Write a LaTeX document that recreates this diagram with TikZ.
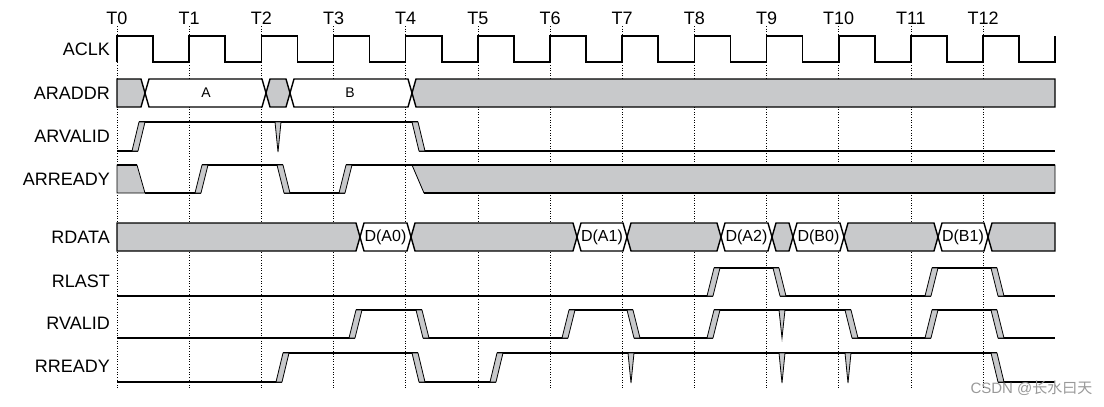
\documentclass[tikz,border=0pt]{standalone}
\usepackage{fontspec}
\setmainfont{Liberation Sans}
\newfontfamily\cjkfont{Noto Sans CJK SC}
\definecolor{bg}{HTML}{C8C9CB}
\def\T#1{117+72.17*(#1)}
\tikzset{sig/.style={line width=1.6pt},edge/.style={fill=bg,draw=black,line width=0.8pt,line join=miter},
 bus/.style={draw=black,line width=1.4pt,line join=miter},
 lab/.style={anchor=east,inner sep=0pt,font=\fontsize{18}{18}\selectfont},
 tlab/.style={inner sep=0pt,font=\fontsize{18}{18}\selectfont}}
% rise at x, lo y, hi y
\newcommand\tdR[3]{\filldraw[edge] (#1,#2) -- (#1+7,#3) -- (#1+13,#3) -- (#1+6,#2) -- cycle;}
\newcommand\tdF[3]{\filldraw[edge] (#1,#3) -- (#1+6,#3) -- (#1+13,#2) -- (#1+7,#2) -- cycle;}
\newcommand\tdG[3]{\filldraw[edge] (#1-3,#2) -- (#1+3,#2) -- (#1,#3) -- cycle;}
% bus segment a b top bot fill
\newcommand\tdSeg[5]{\filldraw[bus,fill=#5] (#1+4,#3) -- (#2-4,#3) -- (#2,{(#3+#4)/2}) -- (#2-4,#4) -- (#1+4,#4) -- (#1,{(#3+#4)/2}) -- cycle;}
\newcommand\tdEnd[5]{\filldraw[bus,fill=#5] (#1+4,#3) -- (#2,#3) -- (#2,#4) -- (#1+4,#4) -- (#1,{(#3+#4)/2}) -- cycle;}
\newcommand\tdBeg[5]{\filldraw[bus,fill=#5] (#1,#3) -- (#2-4,#3) -- (#2,{(#3+#4)/2}) -- (#2-4,#4) -- (#1,#4) -- cycle;}
\begin{document}
\begin{tikzpicture}[x=1pt,y=-1pt]
\useasboundingbox (0,0) rectangle (1104,407);
% grid
\foreach \k in {0,...,12}{
  \draw[dotted,line width=0.6pt] ({\T{\k}},26) -- ({\T{\k}},388);
  \node[tlab] (t\k) at ({\T{\k}},18) {T\k};
}
% labels
\node[lab] (lclk) at (110,49) {ACLK};
\node[lab] (laddr) at (110,93) {ARADDR};
\node[lab] (lav) at (110,136) {ARVALID};
\node[lab] (lar) at (110,179) {ARREADY};
\node[lab] (lrd) at (110,237) {RDATA};
\node[lab] (lrl) at (110,281) {RLAST};
\node[lab] (lrv) at (110,323) {RVALID};
\node[lab] (lrr) at (110,366) {RREADY};
% clock
\draw[sig,line join=miter] (117,62) \foreach \k in {0,...,12}{ -- ({\T{\k}},62) -- ({\T{\k}},36) -- ({\T{\k+.5}},36) -- ({\T{\k+.5}},62)} -- ({\T{13}},62) -- ({\T{13}},36);
% ARADDR
\tdBeg{117}{145}{79}{107}{bg}
\tdSeg{145}{266}{79}{107}{white}
\tdSeg{266}{290}{79}{107}{bg}
\tdSeg{290}{412}{79}{107}{white}
\tdEnd{412}{1055}{79}{107}{bg}
\node[font=\fontsize{14}{14}\selectfont] (va) at (206,93) {A};
\node[font=\fontsize{14}{14}\selectfont] (vb) at (350,93) {B};
% ARVALID
\draw[sig] (117,151) -- (138,151);
\draw[sig] (139,122) -- (418,122);
\draw[sig] (419,151) -- (1055,151);
\tdR{132}{151}{122}
\tdG{278}{122}{152}
\tdF{412}{151}{122}
% ARREADY
\filldraw[edge] (117,165) -- (137,165) -- (145,193) -- (117,193) -- cycle;
\draw[sig] (117,165) -- (137,165);
\draw[sig] (145,193) -- (201,193);
\draw[sig] (202,165) -- (283,165);
\draw[sig] (284,193) -- (345,193);
\draw[sig] (346,165) -- (412,165);
\tdR{195}{193}{165}
\tdF{277}{193}{165}
\tdR{339}{193}{165}
\filldraw[edge] (412,165) -- (1055,165) -- (1055,193) -- (424,193) -- cycle;
\draw[sig] (412,165) -- (1055,165);
\draw[sig] (424,193) -- (1055,193);
% RDATA
\tdBeg{117}{360}{223}{251}{bg}
\tdSeg{360}{411}{223}{251}{white}
\tdSeg{411}{577}{223}{251}{bg}
\tdSeg{577}{627}{223}{251}{white}
\tdSeg{627}{721}{223}{251}{bg}
\tdSeg{721}{772}{223}{251}{white}
\tdSeg{772}{793}{223}{251}{bg}
\tdSeg{793}{844}{223}{251}{white}
\tdSeg{844}{938}{223}{251}{bg}
\tdSeg{938}{988}{223}{251}{white}
\tdEnd{988}{1055}{223}{251}{bg}
\foreach \a/\b/\t [count=\i] in {360/411/D(A0),577/627/D(A1),721/772/D(A2),793/844/D(B0),938/988/D(B1)}
  \node[font=\fontsize{16}{16}\selectfont,inner sep=0pt] (d\i) at ({(\a+\b)/2},237) {\t};
% RLAST
\draw[sig] (117,296) -- (713,296) (714,268) -- (779,268) (780,296) -- (931,296) (932,268) -- (997,268) (998,296) -- (1055,296);
\tdR{707}{296}{268}
\tdF{773}{296}{268}
\tdR{925}{296}{268}
\tdF{991}{296}{268}
% RVALID
\draw[sig] (117,338) -- (355,338) (356,310) -- (422,310) (423,338) -- (568,338) (569,310) -- (633,310) (634,338) -- (713,338) (714,310) -- (851,310) (852,338) -- (931,338) (932,310) -- (997,310) (998,338) -- (1055,338);
\tdR{349}{338}{310}
\tdF{416}{338}{310}
\tdR{562}{338}{310}
\tdF{627}{338}{310}
\tdR{707}{338}{310}
\tdG{782}{310}{338}
\tdF{845}{338}{310}
\tdR{925}{338}{310}
\tdF{991}{338}{310}
% RREADY
\draw[sig] (117,382) -- (282,382) (283,353) -- (418,353) (419,382) -- (496,382) (497,353) -- (997,353) (998,382) -- (1055,382);
\tdR{276}{382}{353}
\tdF{412}{382}{353}
\tdR{490}{382}{353}
\tdG{631}{353}{383}
\tdG{782}{353}{383}
\tdG{848}{353}{383}
\tdF{991}{382}{353}
% watermark
\node[anchor=east,text=black!40,font=\fontsize{15}{15}\selectfont] (wm) at (1096,388) {CSDN @{\cjkfont 长水曰天}};
\end{tikzpicture}
\end{document}
